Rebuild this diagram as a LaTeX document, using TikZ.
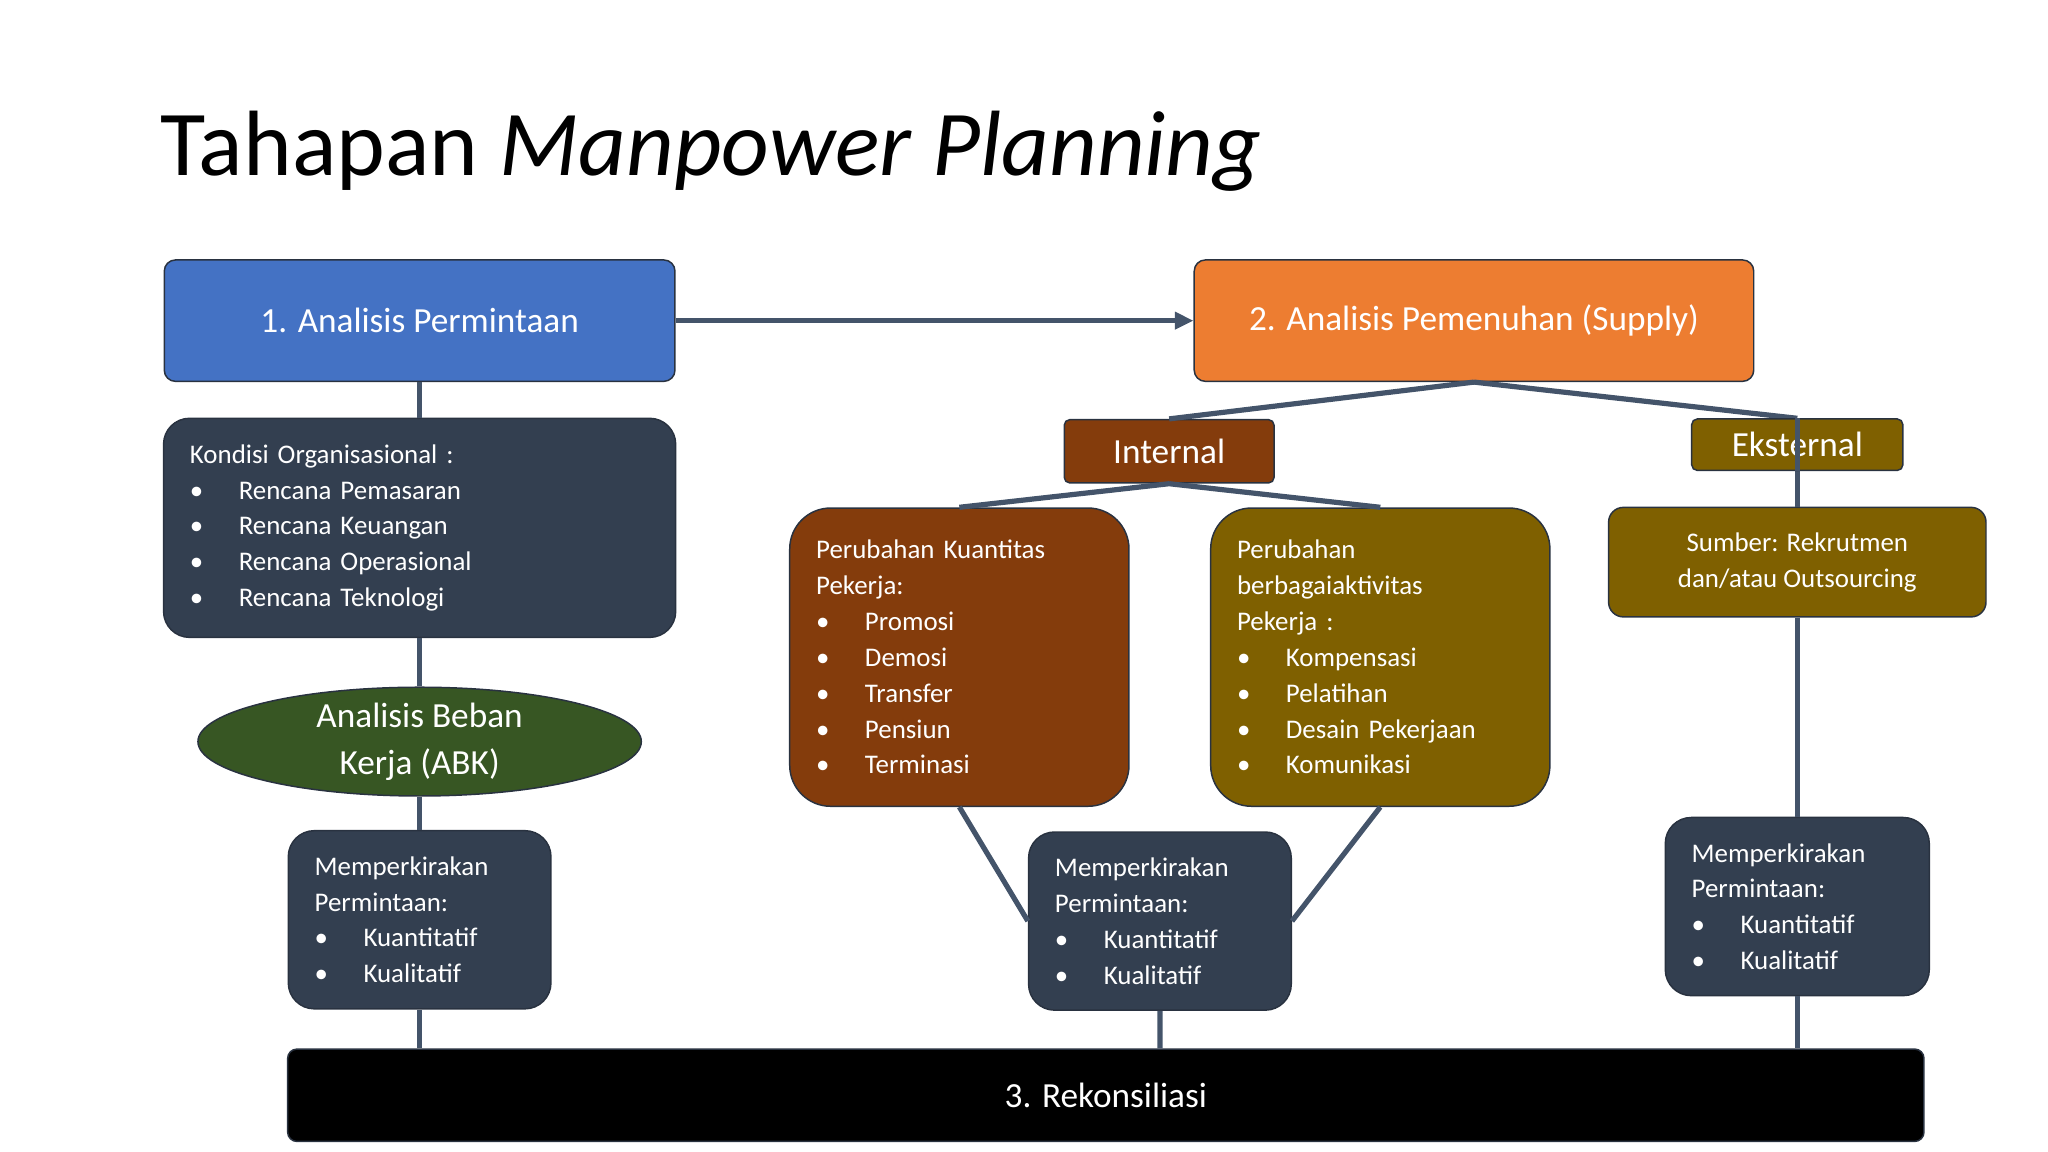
\documentclass[tikz,border=0pt]{standalone}
\usepackage{fontspec}
\setmainfont{Carlito}
\usetikzlibrary{shapes.geometric,arrows.meta}
\definecolor{lc}{HTML}{44546A}
\definecolor{dk}{HTML}{333F50}
\definecolor{bl}{HTML}{4472C4}
\definecolor{orr}{HTML}{ED7D31}
\definecolor{br}{HTML}{843C0C}
\definecolor{ol}{HTML}{7F6000}
\definecolor{gr}{HTML}{375623}
\newcommand\bl[1]{\makebox[0.925cm][l]{\textbullet}#1}
\begin{document}
\begin{tikzpicture}[x=0.025cm,y=-0.025cm,
 box/.style={draw=dk!80!black,line width=0.8pt,text=white,inner sep=0pt},
 big/.style={box,font=\fontsize{19}{25}\selectfont,rounded corners=6pt},
 txt/.style={box,font=\fontsize{14.5}{19.3}\selectfont,align=left,rounded corners=14pt,text width=#1,inner xsep=0.5cm},
 con/.style={lc,line width=2.8pt}]
\useasboundingbox (0,0) rectangle (1552,873);
\node[anchor=base west,font=\fontsize{50}{60}\selectfont] (title) at (117,133) {Tahapan \textit{Manpower Planning}};
\node[big,fill=bl,minimum width=387*0.025cm,minimum height=92*0.025cm] (a) at (318,243) {1. Analisis Permintaan};
\node[big,fill=orr,minimum width=424*0.025cm,minimum height=92*0.025cm] (b) at (1117,243) {2. Analisis Pemenuhan (Supply)};
\node[txt=8.7cm,fill=dk,minimum height=166*0.025cm] (k) at (318,400) {Kondisi Organisasional :\\\bl{Rencana Pemasaran}\\\bl{Rencana Keuangan}\\\bl{Rencana Operasional}\\\bl{Rencana Teknologi}};
\node[box,ellipse,fill=gr,minimum width=336*0.025cm,minimum height=70*0.025cm,align=center,font=\fontsize{19}{25}\selectfont] (e) at (318,562) {Analisis Beban\\Kerja (ABK)};
\node[txt=3.975cm,fill=dk,minimum height=135*0.025cm] (m1) at (318,697) {Memperkirakan\\Permintaan:\\\bl{Kuantitatif}\\\bl{Kualitatif}};
\node[txt=3.975cm,fill=dk,minimum height=135*0.025cm] (m2) at (879,698) {Memperkirakan\\Permintaan:\\\bl{Kuantitatif}\\\bl{Kualitatif}};
\node[txt=4cm,fill=dk,minimum height=135*0.025cm] (m3) at (1362,687) {Memperkirakan\\Permintaan:\\\bl{Kuantitatif}\\\bl{Kualitatif}};
\node[box,fill=black,rounded corners=5pt,minimum width=1240*0.025cm,minimum height=70*0.025cm,font=\fontsize{19}{25}\selectfont] (r) at (838,830) {3. Rekonsiliasi};
\node[box,fill=br,rounded corners=3pt,minimum width=159*0.025cm,minimum height=48*0.025cm,font=\fontsize{19}{25}\selectfont] (i) at (886,342) {Internal};
\node[txt=5.425cm,fill=br,minimum height=226*0.025cm,rounded corners=22pt] (pk) at (727,498) {Perubahan Kuantitas\\Pekerja:\\\bl{Promosi}\\\bl{Demosi}\\\bl{Transfer}\\\bl{Pensiun}\\\bl{Terminasi}};
\node[txt=5.425cm,fill=ol,minimum height=226*0.025cm,rounded corners=22pt] (pb) at (1046,498) {Perubahan\\berbagaiaktivitas\\Pekerja :\\\bl{Kompensasi}\\\bl{Pelatihan}\\\bl{Desain Pekerjaan}\\\bl{Komunikasi}};
\node[box,fill=ol,rounded corners=8pt,minimum width=286*0.025cm,minimum height=83*0.025cm,align=center,font=\fontsize{14.5}{19.3}\selectfont] (s) at (1362,426) {Sumber: Rekrutmen\\dan/atau Outsourcing};
\begin{scope}[on background layer/.style={}]
\end{scope}
\draw[con,-{Triangle[length=10pt,width=9pt]}] (a.east) -- (b.west);
\draw[con] (a) -- (k) (k) -- (e) (e) -- (m1) (m1.south) -- (m1.south|-r.north);
\draw[con] (b.south) -- (i.north) (b.south) -- (1362,317);
\draw[con] (i.south) -- (pk.north) (i.south) -- (pb.north);
\draw[con] (1362,356) -- (s.north) (s) -- (m3) (m3.south) -- (m3.south|-r.north);
\draw[con] (pk.south) -- (m2.west) (pb.south) -- (m2.east) (m2.south) -- (m2.south|-r.north);
\node[box,fill=ol,rounded corners=3pt,minimum width=160*0.025cm,minimum height=39*0.025cm,font=\fontsize{19}{25}\selectfont] (x) at (1362,337) {Eksternal};
\draw[con] (x.north) -- (x.south);
\end{tikzpicture}
\end{document}
